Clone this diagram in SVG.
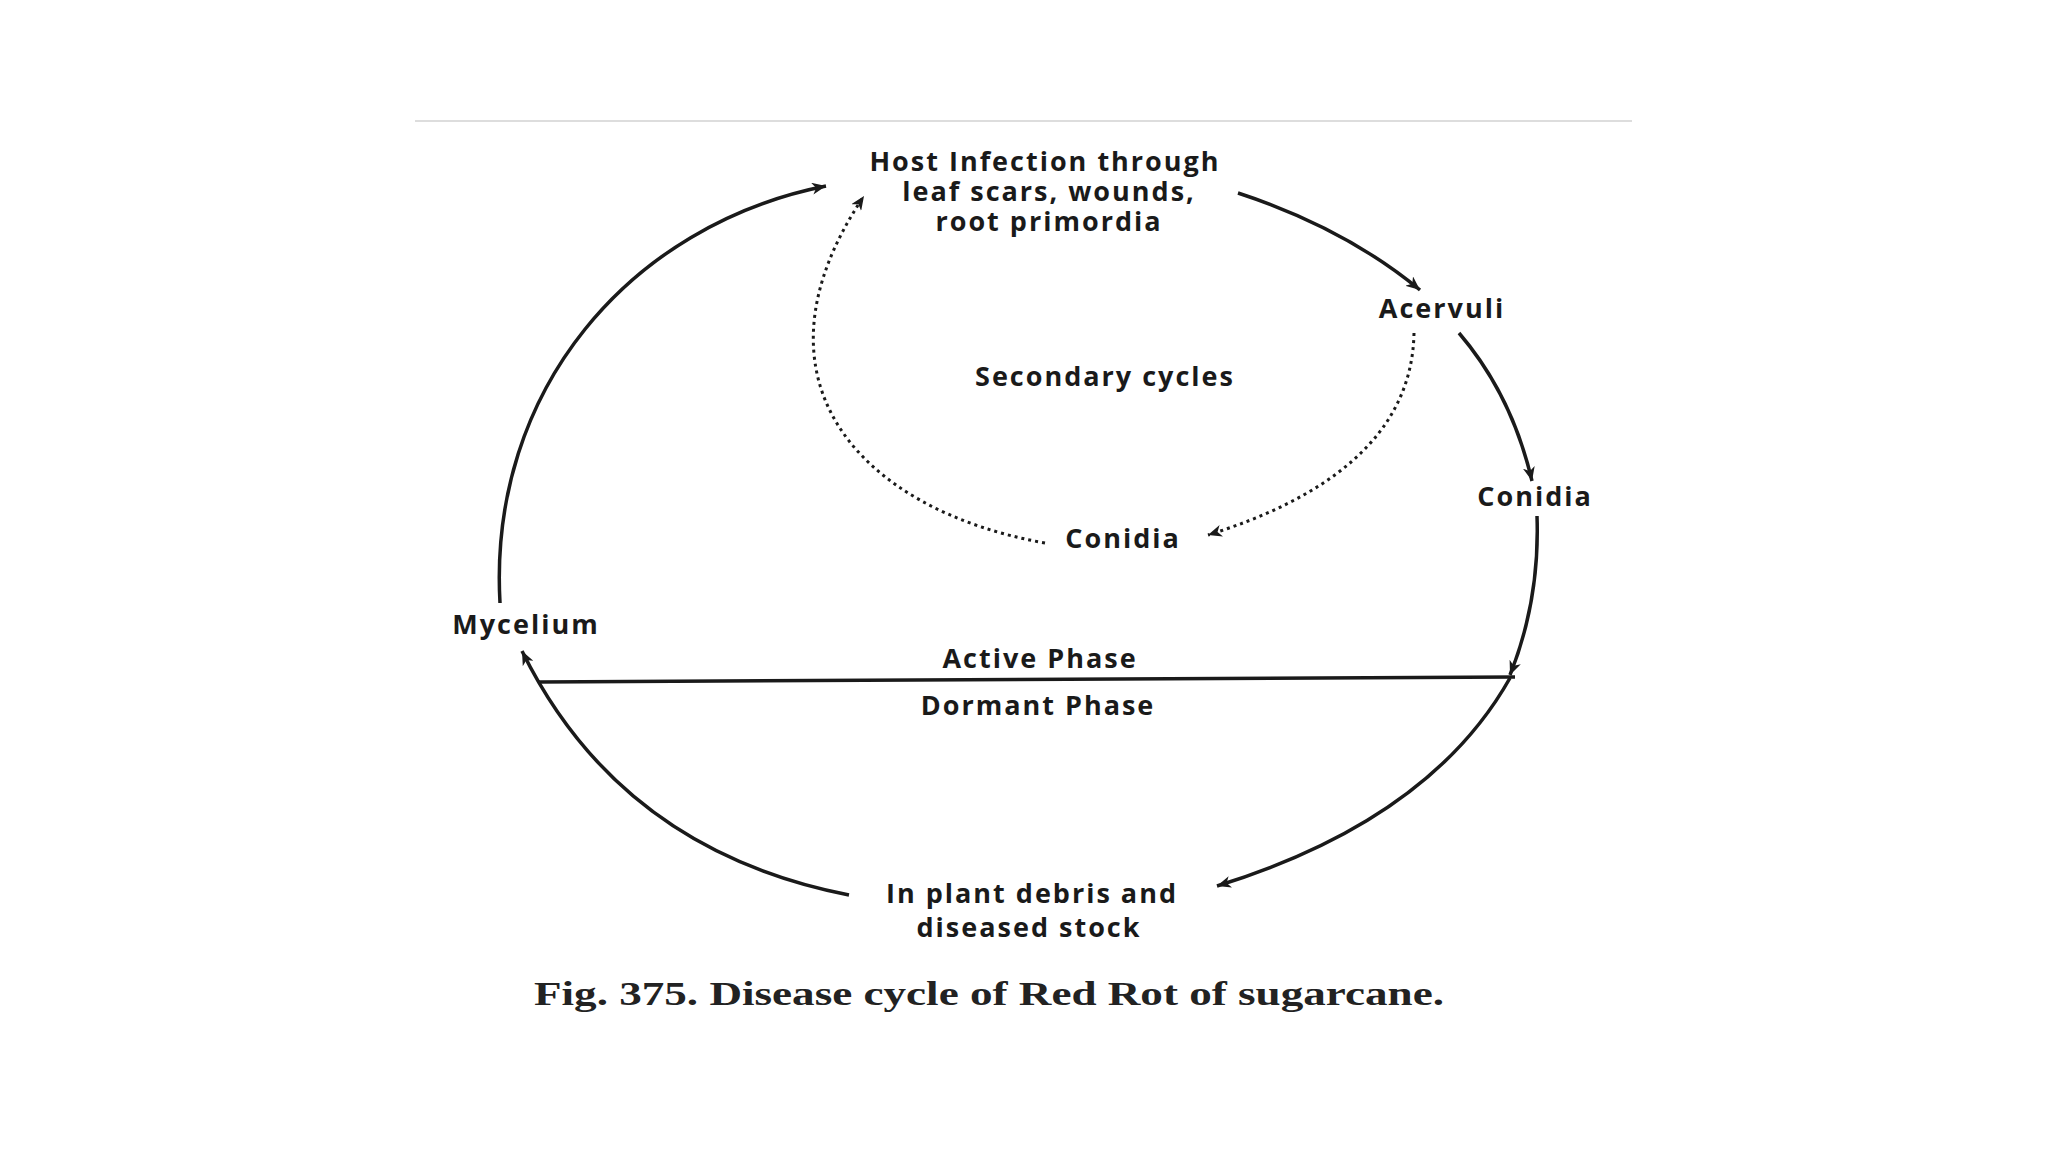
<svg xmlns="http://www.w3.org/2000/svg" width="2048" height="1152" viewBox="0 0 2048 1152">
<defs>
<style>
.t{font-family:"Open Sans","Liberation Sans",sans-serif;font-weight:700;font-size:27px;fill:#1a1a1a;text-anchor:middle;letter-spacing:2px}
.c{stroke:#1a1a1a;stroke-width:3.5;fill:none}
.d{stroke:#1a1a1a;stroke-width:3;fill:none;stroke-dasharray:3 4}
.cap{font-family:"Liberation Serif",serif;font-weight:bold;font-size:34px;fill:#222;text-anchor:middle}
</style>
<marker id="a" viewBox="-14 -6 16 12" refX="0" refY="0" markerWidth="16" markerHeight="12" markerUnits="userSpaceOnUse" orient="auto"><path d="M0,0 L-14,-6 L-10,0 L-14,6 Z" fill="#1a1a1a"/></marker>
</defs>
<rect width="2048" height="1152" fill="#fff"/>
<line x1="415" y1="121" x2="1632" y2="121" stroke="#ddd" stroke-width="2"/>
<g id="connectors">
<path class="c" d="M500,603 C488,390 630,225 826,186" marker-end="url(#a)"/>
<path class="c" d="M1238,193 Q1345,228 1420,290" marker-end="url(#a)"/>
<path class="c" d="M1459,333 Q1512,395 1532,481" marker-end="url(#a)"/>
<path class="c" d="M1537,516 Q1540,600 1510,675" marker-end="url(#a)"/>
<path class="c" d="M1510,678 Q1430,820 1217,886" marker-end="url(#a)"/>
<path class="c" d="M849,895 Q620,850 522,651" marker-end="url(#a)"/>
<path class="d" d="M1045,543 C860,510 740,380 864,196" marker-end="url(#a)"/>
<path class="d" d="M1414,333 C1412,440 1320,500 1208,535" marker-end="url(#a)"/>
<line class="c" x1="539" y1="682" x2="1515" y2="677"/>
</g>
<g id="host"><text class="t" x="1045" y="171">Host Infection through</text><text class="t" x="1049" y="201">leaf scars, wounds,</text><text class="t" x="1049" y="231">root primordia</text></g>
<g id="acervuli"><text class="t" x="1442" y="318">Acervuli</text></g>
<g id="secondary"><text class="t" x="1105" y="386">Secondary cycles</text></g>
<g id="conidia-right"><text class="t" x="1535" y="506">Conidia</text></g>
<g id="conidia-inner"><text class="t" x="1123" y="548">Conidia</text></g>
<g id="mycelium"><text class="t" x="526" y="634">Mycelium</text></g>
<g id="active"><text class="t" x="1040" y="668">Active Phase</text></g>
<g id="dormant"><text class="t" x="1038" y="715">Dormant Phase</text></g>
<g id="debris"><text class="t" x="1032" y="903">In plant debris and</text><text class="t" x="1029" y="937">diseased stock</text></g>
<text class="cap" x="989" y="1005" textLength="910" lengthAdjust="spacingAndGlyphs">Fig. 375.  Disease cycle of Red Rot of sugarcane.</text>
</svg>
